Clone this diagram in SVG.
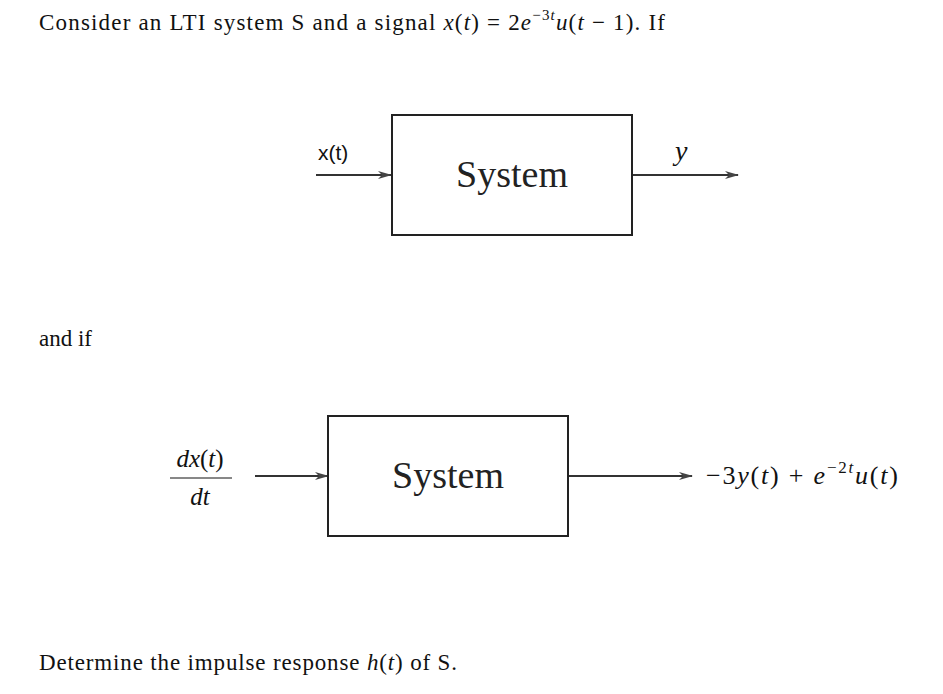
<svg xmlns="http://www.w3.org/2000/svg" width="943" height="694" viewBox="0 0 943 694">
<style>
.t{font-family:"Liberation Serif",serif;fill:#111}
.i{font-style:italic}
.box{fill:#fff;stroke:#222;stroke-width:2}
.ln{stroke:#333;stroke-width:2;fill:none}
.sys{font-family:"Liberation Serif",serif;font-size:38px;fill:#222;text-anchor:middle}
</style>
<defs><marker id="a" viewBox="0 0 14 10" refX="13" refY="5" markerWidth="14" markerHeight="10" orient="auto" markerUnits="userSpaceOnUse"><path d="M0,1L14,5L0,9L4,5z" fill="#444"/></marker></defs>
<rect width="943" height="694" fill="#fff"/>
<text class="t" x="39" y="30" font-size="23" textLength="626" lengthAdjust="spacing">Consider an LTI system S and a signal <tspan class="i">x</tspan>(<tspan class="i">t</tspan>) = 2<tspan class="i">e</tspan><tspan dy="-10" font-size="15">−3<tspan class="i">t</tspan></tspan><tspan dy="10" class="i">u</tspan>(<tspan class="i">t</tspan> − 1). If</text>
<text class="t" x="39" y="346" font-size="23">and if</text>
<text class="t" x="39" y="670" font-size="23" textLength="418" lengthAdjust="spacing">Determine the impulse response <tspan class="i">h</tspan>(<tspan class="i">t</tspan>) of S.</text>
<g id="connectors">
<line class="ln" x1="316" y1="175" x2="391" y2="175" stroke-width="1.5" marker-end="url(#a)"/>
<line class="ln" x1="633" y1="175" x2="738" y2="175" stroke-width="1.5" marker-end="url(#a)"/>
<line class="ln" x1="255" y1="476" x2="328" y2="476" marker-end="url(#a)"/>
<line class="ln" x1="568" y1="476" x2="692" y2="476" marker-end="url(#a)"/>
</g>
<g id="sys1"><rect class="box" x="392" y="115" width="240" height="120"/><text class="sys" x="512" y="187">System</text></g>
<g id="sys2"><rect class="box" x="328" y="416" width="240" height="120"/><text class="sys" x="448" y="488">System</text></g>
<g id="lx"><text x="318" y="160" font-family="Liberation Sans,sans-serif" font-size="21" fill="#111">x(t)</text></g>
<g id="ly"><text x="675" y="160" class="t i" font-size="28">y</text></g>
<g id="ldx"><text class="t" x="200" y="467" text-anchor="middle" font-size="25"><tspan class="i">dx</tspan>(<tspan class="i">t</tspan>)</text><line x1="170" y1="478" x2="232" y2="478" stroke="#111" stroke-width="1"/><text class="t i" x="200" y="505" text-anchor="middle" font-size="25">dt</text></g>
<g id="lout"><text class="t" x="706" y="484" font-size="26" textLength="192" lengthAdjust="spacing">−3<tspan class="i">y</tspan>(<tspan class="i">t</tspan>) + <tspan class="i">e</tspan><tspan dy="-11" font-size="17">−2<tspan class="i">t</tspan></tspan><tspan dy="11" class="i">u</tspan>(<tspan class="i">t</tspan>)</text></g>
</svg>
